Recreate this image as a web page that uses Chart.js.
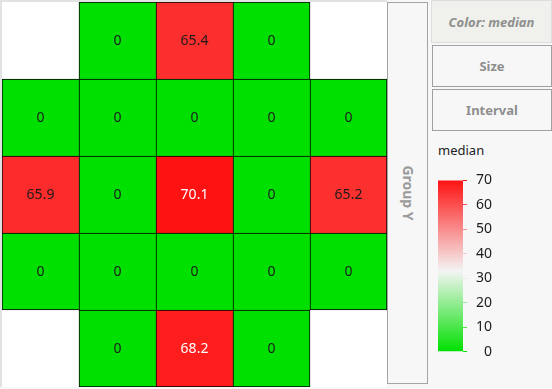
<!DOCTYPE html>
<html>
<head>
<meta charset="utf-8">
<script src="https://cdn.jsdelivr.net/npm/chart.js@4/dist/chart.umd.min.js"></script>
<style>
  html, body { margin: 0; padding: 0; }
  body { width: 552px; height: 389px; background: #f7f7f7; position: relative; overflow: hidden;
         font-family: "Noto Sans", "Open Sans", sans-serif; }
  #gridWrap { position: absolute; left: 0; top: 0; width: 387px; height: 387px; background: #e2e2e2; }
  #heat { position: absolute; left: 2px; top: 2px; background: #fff; }
  #groupY { position: absolute; left: 387px; top: 2px; width: 39px; height: 380px;
            border: 1.5px solid #a4a4a4; background: #f7f7f7; }
  #groupY span { position: absolute; left: 50%; top: 50%; transform: translate(-50%, -50%) rotate(90deg);
                 white-space: nowrap; font-weight: bold; font-size: 14px; color: #9a9a9a; }
  .btn { position: absolute; left: 432px; width: 120px; box-sizing: border-box; text-align: center;
         font-weight: bold; font-size: 13px; color: #8e8e8e; background: #f7f7f7; }
  #bColor { top: 0; height: 43px; line-height: 43px; left: 431px; width: 121px; background: #f0f0ec;
            border: 1px solid #ddd; font-style: italic; }
  #bSize { top: 45px; height: 42px; line-height: 40px; border: 1px solid #a0a0a0; }
  #bInt { top: 89px; height: 42px; line-height: 40px; border: 1px solid #a0a0a0; }
  #legTitle { position: absolute; left: 438px; top: 141px; font-size: 13px; color: #222; }
  #bar { position: absolute; left: 430px; top: 170px; }
</style>
</head>
<body>
<div id="gridWrap"><canvas id="heat" width="385" height="385"></canvas></div>
<div id="groupY"><span>Group Y</span></div>
<div class="btn" id="bColor">Color: median</div>
<div class="btn" id="bSize">Size</div>
<div class="btn" id="bInt">Interval</div>
<div id="legTitle">median</div>
<canvas id="bar" width="65" height="192"></canvas>
<script>
// Столбцы (Group X) и строки сверху вниз (Group Y)
const columns = ['1', '2', '3', '4', '5'];
const row1 = [null, 0, 65.4, 0, null];
const row2 = [0, 0, 0, 0, 0];
const row3 = [65.9, 0, 70.1, 0, 65.2];
const row4 = [0, 0, 0, 0, 0];
const row5 = [null, 0, 68.2, 0, null];
const rows = [row1, row2, row3, row4, row5];

const legendMin = 0;
const legendMax = 70;
const legendStep = 10;

// Шкала цвета: зелёный -> белый -> красный
const colorStops = [
    [0, [0, 224, 0]],
    [33, [244, 244, 244]],
    [73, [255, 0, 0]]
];

function colorOf(v) {
    let rgb = colorStops[colorStops.length - 1][1];
    for (let i = 0; i < colorStops.length - 1; i++) {
        const [a, ca] = colorStops[i];
        const [b, cb] = colorStops[i + 1];
        if (v <= b) {
            const t = Math.max(0, (v - a) / (b - a));
            rgb = ca.map((c, k) => Math.round(c + (cb[k] - c) * t));
            break;
        }
    }
    return rgb;
}

function cssColor(v) {
    const [r, g, b] = colorOf(v);
    return `rgb(${r},${g},${b})`;
}

function textColor(v) {
    const [r, g, b] = colorOf(v);
    return (g < 35 && r > 200) ? '#ffffff' : '#1c1c1c';
}

// Строки в стеке идут снизу вверх
const stacked = [...rows].reverse();

function cellValue(rowIdx, col) {
    if (rowIdx < 0 || rowIdx >= stacked.length) return null;
    return stacked[rowIdx][col];
}

const datasets = stacked.map((row, r) => ({
    label: 'row' + r,
    data: row.map(() => 1),
    values: row,
    backgroundColor: row.map(v => v === null ? 'rgba(0,0,0,0)' : cssColor(v)),
    borderColor: '#000',
    borderSkipped: false,
    borderWidth: ctx => {
        const c = ctx.dataIndex;
        const v = row[c];
        if (v === null) return 0;
        const rightEmpty = c === columns.length - 1 || row[c + 1] === null;
        const belowEmpty = r === 0 || cellValue(r - 1, c) === null;
        return { top: 1, left: 1, right: rightEmpty ? 1 : 0, bottom: belowEmpty ? 1 : 0 };
    },
    barPercentage: 1,
    categoryPercentage: 1
}));

// Подписи значений в ячейках
const cellLabels = {
    id: 'cellLabels',
    afterDatasetsDraw(chart) {
        const ctx = chart.ctx;
        ctx.save();
        ctx.font = '14px "Noto Sans", sans-serif';
        ctx.textAlign = 'center';
        ctx.textBaseline = 'middle';
        chart.data.datasets.forEach((ds, i) => {
            chart.getDatasetMeta(i).data.forEach((el, j) => {
                const v = ds.values[j];
                if (v === null) return;
                const { x, y, base } = el.getProps(['x', 'y', 'base'], true);
                ctx.fillStyle = textColor(v);
                ctx.fillText(String(v), x, (y + base) / 2 + 1);
            });
        });
        ctx.restore();
    }
};

new Chart(document.getElementById('heat'), {
    type: 'bar',
    data: { labels: columns, datasets: datasets },
    options: {
        responsive: false,
        animation: false,
        plugins: { legend: { display: false }, tooltip: { enabled: false } },
        layout: { padding: 0 },
        scales: {
            x: { stacked: true, display: false },
            y: { stacked: true, display: false, min: 0, max: rows.length }
        }
    },
    plugins: [cellLabels]
});

// Цветовая шкала легенды
new Chart(document.getElementById('bar'), {
    type: 'bar',
    data: {
        labels: ['median'],
        datasets: [{
            data: [legendMax],
            barPercentage: 1,
            categoryPercentage: 1,
            borderWidth: 0,
            backgroundColor: ctx => {
                const area = ctx.chart.chartArea;
                if (!area) return null;
                const g = ctx.chart.ctx.createLinearGradient(0, area.bottom, 0, area.top);
                colorStops.forEach(([v]) => {
                    if (v <= legendMax) g.addColorStop((v - legendMin) / (legendMax - legendMin), cssColor(v));
                });
                g.addColorStop(1, cssColor(legendMax));
                return g;
            }
        }]
    },
    options: {
        responsive: false,
        animation: false,
        plugins: { legend: { display: false }, tooltip: { enabled: false } },
        layout: { padding: { left: 8, right: 3, top: 7, bottom: 10 } },
        scales: {
            x: { display: false },
            y: {
                position: 'right',
                min: legendMin,
                max: legendMax,
                border: { display: false },
                grid: {
                    drawOnChartArea: false,
                    tickLength: 4,
                    color: ctx => ctx.tick ? cssColor(ctx.tick.value) : '#000'
                },
                ticks: {
                    stepSize: legendStep,
                    padding: 2,
                    crossAlign: 'far',
                    color: '#1c1c1c',
                    font: { family: '"Noto Sans", sans-serif', size: 14 }
                },
                afterFit: scale => { scale.width = 29; }
            }
        }
    }
});
</script>
</body>
</html>
